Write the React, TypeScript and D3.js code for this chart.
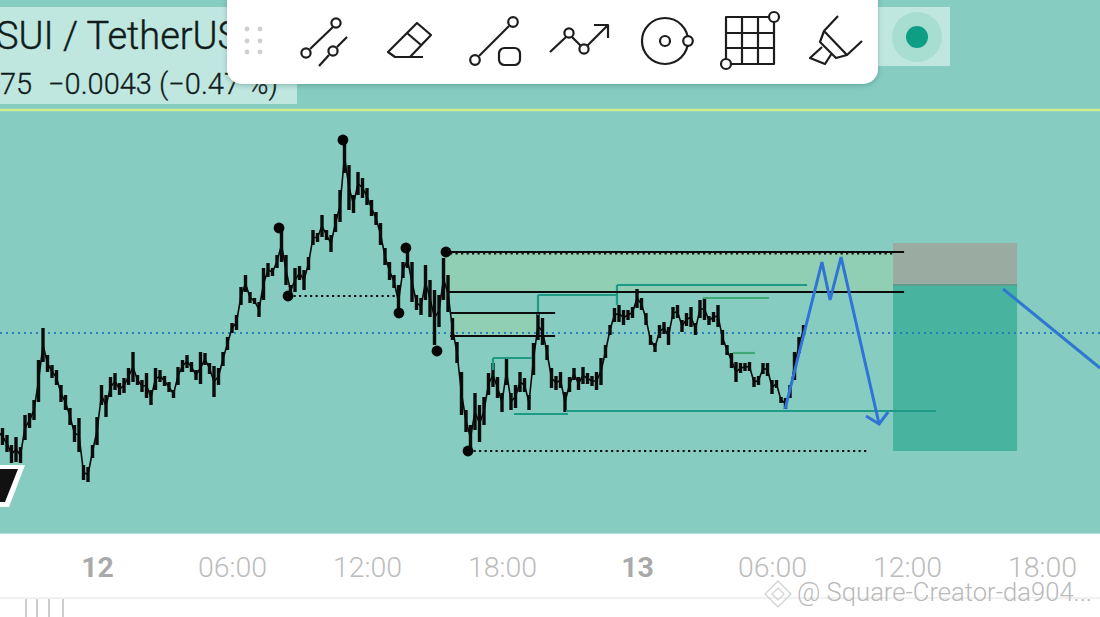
import { useEffect, useRef } from "react";
import * as d3 from "d3";

// 12 minute bars, first bar is 4h24 before midnight of the 12th
const firstBarHour = -4.4;
const barStep = 0.2;

const highs = [
  0.82, 0.815, 0.808, 0.798, 0.806, 0.796, 0.828, 0.83, 0.843, 0.883, 0.915, 0.888, 0.878, 0.873, 0.858, 0.848, 0.835, 0.818, 0.825, 0.778,
  0.776, 0.798, 0.826, 0.858, 0.848, 0.866, 0.87, 0.86, 0.865, 0.875, 0.891, 0.868, 0.863, 0.87, 0.853, 0.875, 0.873, 0.867, 0.861, 0.853,
  0.876, 0.883, 0.888, 0.881, 0.873, 0.891, 0.89, 0.88, 0.877, 0.875, 0.891, 0.906, 0.92, 0.928, 0.956, 0.968, 0.951, 0.945, 0.941, 0.975,
  0.98, 0.975, 0.988, 1.015, 0.988, 0.958, 0.975, 0.977, 0.973, 0.986, 1.013, 1.01, 1.028, 1.013, 1.008, 1.029, 1.053, 1.103, 1.078, 1.048,
  1.071, 1.065, 1.055, 1.043, 1.031, 1.02, 0.995, 0.981, 0.968, 0.958, 0.981, 0.991, 0.981, 0.948, 0.945, 0.978, 0.963, 0.953, 0.948, 0.985,
  0.968, 0.925, 0.901, 0.871, 0.833, 0.818, 0.85, 0.838, 0.846, 0.87, 0.88, 0.866, 0.85, 0.885, 0.85, 0.858, 0.871, 0.865, 0.848, 0.9,
  0.931, 0.925, 0.898, 0.875, 0.867, 0.871, 0.851, 0.866, 0.875, 0.866, 0.876, 0.87, 0.867, 0.871, 0.885, 0.898, 0.918, 0.935, 0.938, 0.933,
  0.933, 0.936, 0.954, 0.945, 0.93, 0.908, 0.9, 0.918, 0.921, 0.916, 0.936, 0.938, 0.923, 0.93, 0.936, 0.92, 0.943, 0.945, 0.927, 0.931,
  0.938, 0.913, 0.898, 0.89, 0.881, 0.88, 0.88, 0.881, 0.866, 0.867, 0.88, 0.88, 0.863, 0.863, 0.846, 0.845, 0.858, 0.891, 0.906, 0.918,
];
const lows = [
  0.803, 0.798, 0.791, 0.78, 0.781, 0.78, 0.803, 0.815, 0.823, 0.841, 0.881, 0.871, 0.865, 0.858, 0.841, 0.833, 0.818, 0.801, 0.791, 0.763,
  0.761, 0.785, 0.798, 0.838, 0.826, 0.846, 0.853, 0.848, 0.85, 0.858, 0.861, 0.858, 0.851, 0.845, 0.838, 0.853, 0.861, 0.857, 0.851, 0.845,
  0.858, 0.871, 0.875, 0.871, 0.863, 0.859, 0.878, 0.869, 0.846, 0.858, 0.877, 0.893, 0.91, 0.913, 0.938, 0.951, 0.94, 0.939, 0.926, 0.943,
  0.966, 0.967, 0.975, 0.981, 0.958, 0.946, 0.951, 0.963, 0.953, 0.973, 0.998, 1.001, 1.006, 1.003, 0.991, 1.011, 1.021, 1.07, 1.033, 1.03,
  1.048, 1.045, 1.038, 1.027, 1.018, 0.998, 0.978, 0.963, 0.955, 0.925, 0.965, 0.975, 0.941, 0.933, 0.928, 0.943, 0.926, 0.898, 0.916, 0.943,
  0.931, 0.903, 0.88, 0.828, 0.811, 0.793, 0.813, 0.801, 0.818, 0.848, 0.856, 0.845, 0.831, 0.858, 0.833, 0.835, 0.851, 0.851, 0.833, 0.868,
  0.903, 0.898, 0.883, 0.855, 0.853, 0.855, 0.831, 0.851, 0.863, 0.853, 0.859, 0.859, 0.857, 0.853, 0.858, 0.885, 0.908, 0.921, 0.921, 0.918,
  0.923, 0.925, 0.935, 0.933, 0.918, 0.898, 0.891, 0.905, 0.909, 0.898, 0.924, 0.925, 0.911, 0.917, 0.916, 0.908, 0.925, 0.923, 0.918, 0.921,
  0.916, 0.898, 0.888, 0.875, 0.861, 0.87, 0.872, 0.872, 0.856, 0.858, 0.869, 0.867, 0.849, 0.855, 0.84, 0.834, 0.845, 0.863, 0.89, 0.908,
];

// axis
const tickHours = [0, 6, 12, 18, 24, 30, 36, 42];
const tickLabels = ["12", "06:00", "12:00", "18:00", "13", "06:00", "12:00", "18:00"];
const dayTicks = ["12", "13"];

// price lines
const lastPrice = 0.91;
const topLine = 1.133;

// drawings: [hour1, price1, hour2, price2]
const blackLines = [
  [15.51, 0.991, 35.87, 0.991],
  [15.56, 0.951, 35.87, 0.951],
  [15.69, 0.93, 20.36, 0.93],
  [15.69, 0.907, 20.36, 0.907],
];
const tealLines = [
  [19.6, 0.948, 23.11, 0.948],
  [19.6, 0.948, 19.6, 0.928],
  [23.11, 0.958, 31.56, 0.958],
  [23.11, 0.958, 23.11, 0.938],
  [17.6, 0.885, 19.33, 0.885],
  [17.6, 0.885, 17.6, 0.873],
  [18.53, 0.829, 20.93, 0.829],
  [20.84, 0.832, 37.29, 0.832],
];
const greenLines = [
  [26.93, 0.945, 29.87, 0.945],
  [28.27, 0.89, 29.24, 0.89],
];
const dottedLines = [
  [8.49, 0.947, 13.38, 0.947],
  [16.49, 0.792, 34.22, 0.792],
  [15.69, 0.9895, 35.38, 0.9895],
];
const pivotHours = [10.93, 8.09, 8.49, 13.42, 13.73, 15.11, 15.51, 16.49];
const pivotPrices = [1.103, 1.015, 0.947, 0.93, 0.995, 0.892, 0.991, 0.792];
// zones: [hour1, hour2, priceTop, priceBottom]
const zones = [
  [15.51, 35.38, 0.99, 0.951],
  [15.69, 19.6, 0.93, 0.907],
];
const stopBox = [35.38, 40.89, 1.0, 0.958];
const targetBox = [35.38, 40.89, 0.958, 0.792];
const projectionHours = [30.58, 32.22, 32.58, 33.07, 34.76];
const projectionPrices = [0.834, 0.981, 0.943, 0.986, 0.819];
const arrowHeadHours = [34.18, 34.76, 35.16];
const arrowHeadPrices = [0.827, 0.819, 0.831];
const secondProjection = [40.27, 0.954, 44.58, 0.875];

const WIDTH = 1100;
const HEIGHT = 617;
const PLOT_BOTTOM = 533;
const FONT = "Roboto, 'Open Sans', sans-serif";

export default function App() {
  const chartRef = useRef<SVGGElement>(null);

  useEffect(() => {
    if (!chartRef.current) return;
    const g = d3.select(chartRef.current);
    g.selectAll("*").remove();

    const x = d3.scaleLinear().domain([0, 6]).range([97, 232]);
    const y = d3.scaleLinear().domain([1.243, 0.71]).range([0, PLOT_BOTTOM]);

    // plot background
    g.append("rect").attr("width", WIDTH).attr("height", PLOT_BOTTOM).attr("fill", "#86ccc0");
    g.append("line")
      .attr("x1", 0).attr("x2", WIDTH)
      .attr("y1", y(topLine)).attr("y2", y(topLine))
      .attr("stroke", "#cdec8e").attr("stroke-width", 2.5);

    // zones
    g.selectAll(".zone")
      .data(zones)
      .enter()
      .append("rect")
      .attr("x", (d) => x(d[0]))
      .attr("width", (d) => x(d[1]) - x(d[0]))
      .attr("y", (d) => y(d[2]))
      .attr("height", (d) => y(d[3]) - y(d[2]))
      .attr("fill", "#90cfb3");

    // long/short box
    g.append("rect")
      .attr("x", x(stopBox[0]))
      .attr("width", x(stopBox[1]) - x(stopBox[0]))
      .attr("y", y(stopBox[2]))
      .attr("height", y(stopBox[3]) - y(stopBox[2]))
      .attr("fill", "#9aaba2");
    g.append("rect")
      .attr("x", x(targetBox[0]))
      .attr("width", x(targetBox[1]) - x(targetBox[0]))
      .attr("y", y(targetBox[2]))
      .attr("height", y(targetBox[3]) - y(targetBox[2]))
      .attr("fill", "#48b4a0");
    g.append("line")
      .attr("x1", x(stopBox[0])).attr("x2", x(stopBox[1]))
      .attr("y1", y(stopBox[3])).attr("y2", y(stopBox[3]))
      .attr("stroke", "#5f9c8e").attr("stroke-width", 2);

    // last price line
    g.append("line")
      .attr("x1", 0).attr("x2", WIDTH)
      .attr("y1", y(lastPrice)).attr("y2", y(lastPrice))
      .attr("stroke", "#2b7fb8").attr("stroke-width", 2).attr("stroke-dasharray", "2,4");

    // price: thin link between bars, then the bars
    const hours = highs.map((_, i) => firstBarHour + i * barStep);
    const mid = d3
      .line<number>()
      .x((d) => x(d))
      .y((_, i) => y((highs[i] + lows[i]) / 2));
    g.append("path")
      .attr("d", mid(hours))
      .attr("fill", "none")
      .attr("stroke", "#0b0b0b")
      .attr("stroke-width", 1.6);
    g.selectAll(".bar")
      .data(hours)
      .enter()
      .append("line")
      .attr("class", "bar")
      .attr("x1", (d) => x(d))
      .attr("x2", (d) => x(d))
      .attr("y1", (_, i) => y(highs[i]))
      .attr("y2", (_, i) => y(lows[i]))
      .attr("stroke", "#0b0b0b")
      .attr("stroke-width", 3.4);

    const drawLines = (data: number[][], color: string, width: number, dash?: string) => {
      g.append("g")
        .selectAll("line")
        .data(data)
        .enter()
        .append("line")
        .attr("x1", (d) => x(d[0]))
        .attr("y1", (d) => y(d[1]))
        .attr("x2", (d) => x(d[2]))
        .attr("y2", (d) => y(d[3]))
        .attr("stroke", color)
        .attr("stroke-width", width)
        .attr("stroke-dasharray", dash ?? null);
    };
    drawLines(tealLines, "#1f9a86", 2.2);
    drawLines(greenLines, "#3fa877", 2.2);
    drawLines(blackLines, "#0c0c0c", 2.2);
    drawLines(dottedLines, "#0c0c0c", 2.2, "2.2,3.3");

    // pivots
    g.selectAll(".pivot")
      .data(pivotHours)
      .enter()
      .append("circle")
      .attr("cx", (d) => x(d))
      .attr("cy", (_, i) => y(pivotPrices[i]))
      .attr("r", 5.4)
      .attr("fill", "#050505");

    // projected path
    const pathOf = (hs: number[], ps: number[]) =>
      d3
        .line<number>()
        .x((d) => x(d))
        .y((_, i) => y(ps[i]))(hs);
    [pathOf(projectionHours, projectionPrices), pathOf(arrowHeadHours, arrowHeadPrices)].forEach((d) => {
      g.append("path")
        .attr("d", d)
        .attr("fill", "none")
        .attr("stroke", "#2f74d6")
        .attr("stroke-width", 3)
        .attr("stroke-linejoin", "miter");
    });
    drawLines([secondProjection], "#2f78d0", 3);

    // time axis
    const axis = g
      .append("g")
      .attr("transform", `translate(0,${PLOT_BOTTOM})`)
      .call(
        d3
          .axisBottom(x)
          .tickValues(tickHours)
          .tickSize(0)
          .tickPadding(0)
          .tickFormat((_, i) => tickLabels[i])
      );
    axis.select(".domain").remove();
    axis
      .selectAll<SVGTextElement, number>("text")
      .attr("y", 44)
      .attr("dy", 0)
      .style("font-family", FONT)
      .style("font-size", "28.5px")
      .style("font-weight", (_, i) => (dayTicks.includes(tickLabels[i]) ? 700 : 300))
      .style("fill", (_, i) => (dayTicks.includes(tickLabels[i]) ? "#a9a9a9" : "#bcbcbc"));
  }, []);

  return (
    <svg
      width={WIDTH}
      height={HEIGHT}
      viewBox={`0 0 ${WIDTH} ${HEIGHT}`}
      style={{ position: "absolute", left: 0, top: 0, background: "#fff" }}
    >
      <defs>
        <filter id="toolShadow" x="-5%" y="-20%" width="110%" height="150%">
          <feDropShadow dx="0" dy="1.5" stdDeviation="2.5" floodColor="#2c5f58" floodOpacity="0.35" />
        </filter>
      </defs>

      <g ref={chartRef} />

      {/* bottom pane */}
      <line x1={0} x2={WIDTH} y1={533.5} y2={533.5} stroke="#b5e0d8" strokeWidth={1} />
      <line x1={0} x2={WIDTH} y1={598} y2={598} stroke="#ececec" strokeWidth={1.5} />
      <g stroke="#c0c0c0" strokeWidth={1.6}>
        <line x1={26} x2={26} y1={599} y2={617} />
        <line x1={37} x2={37} y1={599} y2={617} />
        <line x1={49} x2={49} y1={599} y2={617} />
        <line x1={63} x2={63} y1={599} y2={617} />
      </g>

      {/* cut-off label, bottom left */}
      <polygon points="-6,465 25,465 9,507 -6,507" fill="#fff" />
      <polygon points="-6,469 18,469 5,502 -6,502" fill="#111" />

      {/* legend */}
      <rect x={0} y={7} width={232} height={66} fill="#c0e6e0" />
      <rect x={0} y={72} width={297} height={32} fill="#c0e6e0" />
      <text x={-4} y={49} fontFamily={FONT} fontSize={38} fontWeight={300} fill="#0f1c1a" stroke="#0f1c1a" strokeWidth={0.4}>
        SUI / TetherUS
      </text>
      <text x={0} y={94} fontFamily={FONT} fontSize={29} fontWeight={300} fill="#0f1c1a" stroke="#0f1c1a" strokeWidth={0.3}>
        75
        <tspan x={48}>−0.0043 (−0.47 %)</tspan>
      </text>

      {/* status dot */}
      <rect x={878} y={7} width={72} height={59} fill="#bfe6df" />
      <circle cx={917} cy={37} r={25} fill="#a8ddd2" />
      <circle cx={917} cy={37} r={11} fill="#0e9e84" />

      {/* toolbar */}
      <rect x={227} y={-16} width={651} height={100} rx={15} fill="#fff" filter="url(#toolShadow)" />
      <g fill="#cfcfcf">
        {[247, 260].map((cx) =>
          [29, 41, 52].map((cy) => <circle key={`${cx}-${cy}`} cx={cx} cy={cy} r={2.4} />)
        )}
      </g>
      <g fill="none" stroke="#1d1d1d" strokeWidth={2.2} strokeLinejoin="round">
        <path d="M310 49 L333 27 M319 66 L329 55 M337 47 L347 37" />
        <circle cx={336} cy={23} r={4.6} />
        <circle cx={306} cy={53} r={4.6} />
        <circle cx={333} cy={51} r={4.6} />

        <path d="M388 52 L417 23 L431 35 L410 57 L395 57 Z M395 57 L423 57 M407 33 L421 45" />

        <path d="M479 56 L509 26" />
        <circle cx={513} cy={22} r={4.8} />
        <circle cx={475} cy={60} r={4.8} />
        <rect x={499} y={48} width={21} height={17} rx={5.5} />

        <path d="M550 52 L566 37 M572 37 L581 46 M587 46 L608 25 M594 25 L608 25 L608 38" />
        <circle cx={569} cy={33} r={4.6} />
        <circle cx={584} cy={49} r={4.6} />

        <circle cx={665} cy={41} r={23} />
        <circle cx={665} cy={41} r={5} />
        <circle cx={688} cy={41} r={4.8} fill="#fff" />

        <path d="M726 17 H774 V64 H726 Z M742 17 V64 M758 17 V64 M726 33 H774 M726 48 H774" />
        <circle cx={774} cy={17} r={5} fill="#fff" />
        <circle cx={726} cy={64} r={5} fill="#fff" />

        <path d="M838 16 L824 31 L820 42 L836 58 L847 55 L862 41 M824 31 L847 55 M822 47 L810 58 L825 64 L832 53" />
      </g>

      {/* watermark */}
      <g fill="none" stroke="#d4d4d4" strokeWidth={1.4}>
        <path d="M778 581 L791 594 L778 607 L765 594 Z" />
        <path d="M778 588 L784 594 L778 600 L772 594 Z" />
      </g>
      <text x={797} y={601} fontFamily={FONT} fontSize={25.6} fontWeight={300} fill="#b9b9b9">
        @ Square-Creator-da904...
      </text>
    </svg>
  );
}
